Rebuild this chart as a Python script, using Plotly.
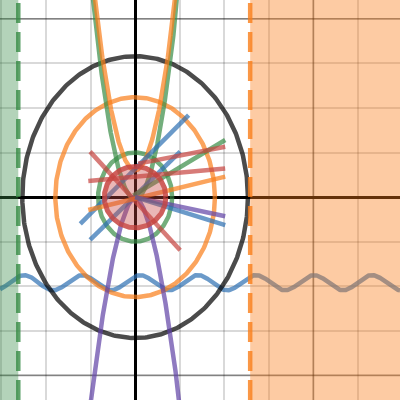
import numpy as np
import plotly.graph_objects as go

# Desmos-style colours
RED, BLUE, GREEN = "#c74440", "#2d70b3", "#388c46"
PURPLE, ORANGE, BLACK = "#6042a6", "#fa7e19", "#000000"

# view window
X_RANGE = [-3.03, 5.94]
Y_RANGE = [-4.55, 4.42]

# ellipses: (colour, a, b)
ellipse_colors = [BLACK, ORANGE, GREEN]
ellipse_a = [2.53, 1.79, 0.83]
ellipse_b = [3.16, 2.24, 1.0]
disk_r = 0.69

# power curves y = k*|x|^p + c
parab_colors = [GREEN, ORANGE, PURPLE]
parab_k = [5.0, 4.7, -4.64]
parab_p = [2.0, 2.0, 1.74]
parab_c = [-0.05, 0.6, 0.0]

# segments
seg_colors = [BLUE, BLUE, GREEN, RED, RED, RED, ORANGE, PURPLE, BLUE]
seg_x0 = [-1.23, -1.01, -0.04, -1.01, 0.07, -1.05, -1.05, 0.0, 0.0]
seg_y0 = [-0.60, -0.96, 0.04, 1.02, 0.75, 0.36, -0.29, 0.0, 0.0]
seg_x1 = [1.20, 1.01, 2.02, 1.01, 2.02, 2.02, 2.02, 2.02, 2.02]
seg_y1 = [1.84, 1.02, 1.28, -1.19, 1.13, 0.64, 0.46, -0.43, -0.63]

# wave y = mid + amp*cos(2*pi*(x - shift)/period)
wave_mid, wave_amp, wave_period, wave_shift = -1.92, 0.17, 1.3, 0.11

# shaded regions
green_edge = -2.62
orange_edge = 2.58

fig = go.Figure()
t = np.linspace(0, 2 * np.pi, 400)
W = 4.5
OP = 0.7

xs = np.linspace(X_RANGE[0], X_RANGE[1], 800)
fig.add_trace(go.Scatter(x=xs, y=wave_mid + wave_amp * np.cos(2 * np.pi * (xs - wave_shift) / wave_period),
                         mode="lines", line=dict(color=BLUE, width=W), opacity=OP))

for c, a, b in zip(ellipse_colors, ellipse_a, ellipse_b):
    fig.add_trace(go.Scatter(x=a * np.cos(t), y=b * np.sin(t), mode="lines",
                             line=dict(color=c, width=W), opacity=OP))

xp = np.linspace(-1.3, 1.3, 401)
for c, k, p, c0 in zip(parab_colors, parab_k, parab_p, parab_c):
    fig.add_trace(go.Scatter(x=xp, y=k * np.abs(xp) ** p + c0, mode="lines",
                             line=dict(color=c, width=W), opacity=OP))

for c, x0, y0, x1, y1 in zip(seg_colors, seg_x0, seg_y0, seg_x1, seg_y1):
    fig.add_trace(go.Scatter(x=[x0, x1], y=[y0, y1], mode="lines",
                             line=dict(color=c, width=W), opacity=OP))

fig.add_trace(go.Scatter(x=disk_r * np.cos(t), y=disk_r * np.sin(t), mode="lines", fill="toself",
                         fillcolor="rgba(199,68,64,0.45)", line=dict(color=RED, width=5), opacity=0.85))

shapes = []
# major grid lines
for v in [-4, 4]:
    shapes.append(dict(type="line", x0=v, x1=v, y0=0, y1=1, xref="x", yref="paper",
                       line=dict(color="rgba(0,0,0,0.4)", width=1.5), layer="below"))
    shapes.append(dict(type="line", y0=v, y1=v, x0=0, x1=1, yref="y", xref="paper",
                       line=dict(color="rgba(0,0,0,0.4)", width=1.5), layer="below"))
# shaded regions
shapes.append(dict(type="rect", x0=X_RANGE[0] - 1, x1=green_edge, y0=0, y1=1, xref="x", yref="paper",
                   fillcolor="rgba(56,140,70,0.38)", line=dict(width=0), layer="above"))
shapes.append(dict(type="rect", x0=orange_edge, x1=X_RANGE[1] + 1, y0=0, y1=1, xref="x", yref="paper",
                   fillcolor="rgba(250,126,25,0.4)", line=dict(width=0), layer="above"))
shapes.append(dict(type="line", x0=green_edge, x1=green_edge, y0=0, y1=1, xref="x", yref="paper",
                   line=dict(color=GREEN, width=W, dash="20px,9px"), opacity=0.8, layer="above"))
shapes.append(dict(type="line", x0=orange_edge, x1=orange_edge, y0=0, y1=1, xref="x", yref="paper",
                   line=dict(color=ORANGE, width=W, dash="20px,9px"), opacity=0.8, layer="above"))

fig.update_layout(
    width=400, height=400, margin=dict(l=0, r=0, t=0, b=0),
    plot_bgcolor="white", paper_bgcolor="white", showlegend=False, shapes=shapes,
    xaxis=dict(range=X_RANGE, dtick=1, showticklabels=False, gridcolor="rgba(0,0,0,0.15)", gridwidth=1.5,
               zeroline=True, zerolinecolor="black", zerolinewidth=2.5, fixedrange=True),
    yaxis=dict(range=Y_RANGE, dtick=1, showticklabels=False, gridcolor="rgba(0,0,0,0.15)", gridwidth=1.5,
               zeroline=True, zerolinecolor="black", zerolinewidth=2.5, fixedrange=True),
)
fig.write_html("out.html", config={"displayModeBar": False},
               post_script="document.body.style.margin='0';document.body.style.overflow='hidden';")
